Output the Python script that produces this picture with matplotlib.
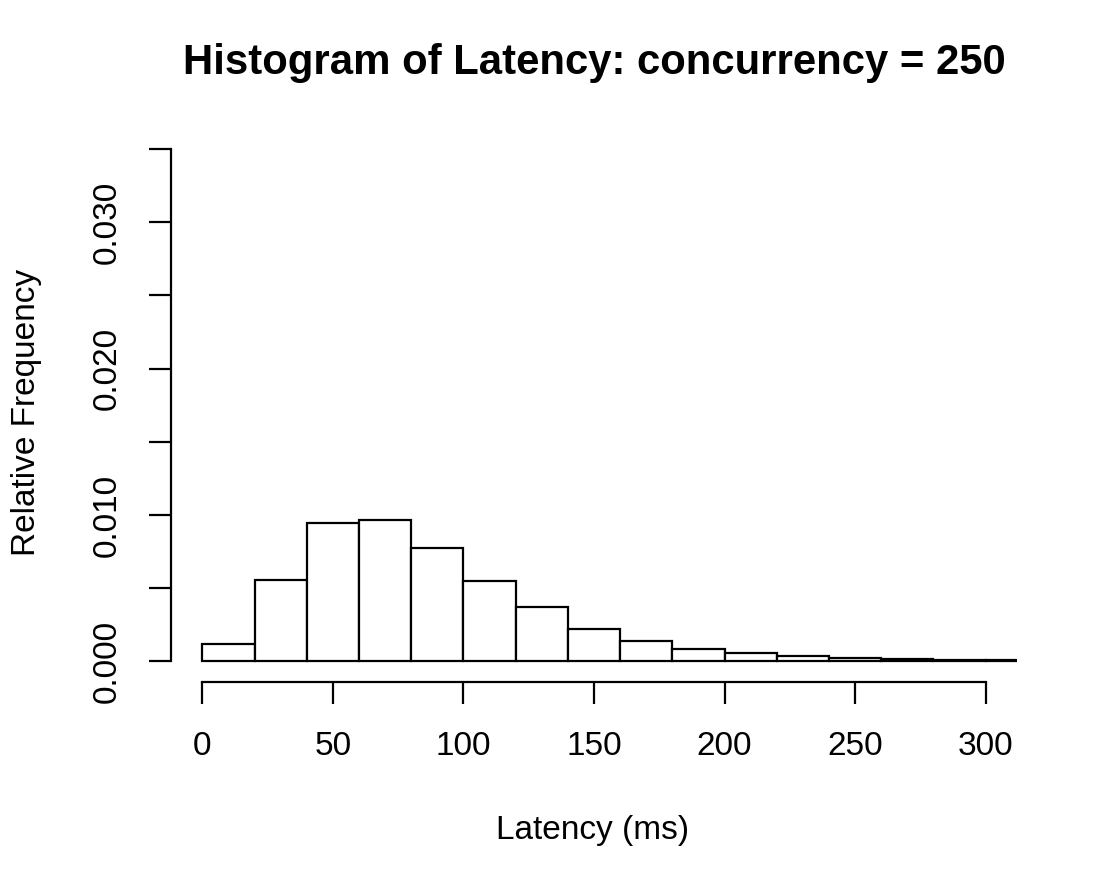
import numpy as np
import matplotlib
matplotlib.use('Agg')
import matplotlib.pyplot as plt

plt.rcParams['font.family'] = ['Liberation Sans', 'DejaVu Sans']

# bin edges (20 ms wide) and relative frequency
bin_left = [0, 20, 40, 60, 80, 100, 120, 140, 160, 180, 200, 220, 240, 260, 280, 300]
density = [0.00119, 0.00558, 0.00948, 0.00966, 0.00777, 0.00553, 0.00374, 0.00225,
           0.00141, 0.00087, 0.00059, 0.00037, 0.00025, 0.00016, 0.00012, 0.00007]
bin_width = 20

x_ticks = [0, 50, 100, 150, 200, 250, 300]
y_ticks = [0.000, 0.005, 0.010, 0.015, 0.020, 0.025, 0.030, 0.035]
y_labels = ['0.000', '', '0.010', '', '0.020', '', '0.030', '']

W, H = 1104, 890
fig = plt.figure(figsize=(W / 100, H / 100), dpi=100)
# plot region like R: xlim(0,300) and ylim(0,0.035) extended by 4%
ax = fig.add_axes([171 / W, 1 - 682 / H, (1017 - 171) / W, (682 - 128.4) / H])
ax.set_xlim(-12, 312)
ax.set_ylim(-0.0014, 0.0364)

ax.bar(bin_left, density, width=bin_width, align='edge', color='white',
       edgecolor='black', linewidth=1.6)

for s in ['top', 'right']:
    ax.spines[s].set_visible(False)
ax.spines['bottom'].set_bounds(0, 300)
ax.spines['left'].set_bounds(0, 0.035)
ax.spines['bottom'].set_linewidth(1.6)
ax.spines['left'].set_linewidth(1.6)

ax.set_xticks(x_ticks)
ax.set_xticklabels([str(v) for v in x_ticks])
ax.set_yticks(y_ticks)
ax.set_yticklabels(y_labels, rotation=90, va='center')
ax.tick_params(axis='both', length=15.5, width=1.6, labelsize=24, direction='out')
ax.tick_params(axis='x', pad=20)
ax.tick_params(axis='y', pad=19)

fig.text(594 / W, 1 - 74 / H, 'Histogram of Latency: concurrency = 250',
         ha='center', va='baseline', fontsize=30.2, fontweight='bold')
fig.text(593 / W, 1 - 839 / H, 'Latency (ms)', ha='center', va='baseline', fontsize=24)
fig.text(27 / W, 1 - 412 / H, 'Relative Frequency', ha='center', va='center',
         rotation=90, fontsize=24)

fig.savefig('out.png', dpi=100, facecolor='white')
